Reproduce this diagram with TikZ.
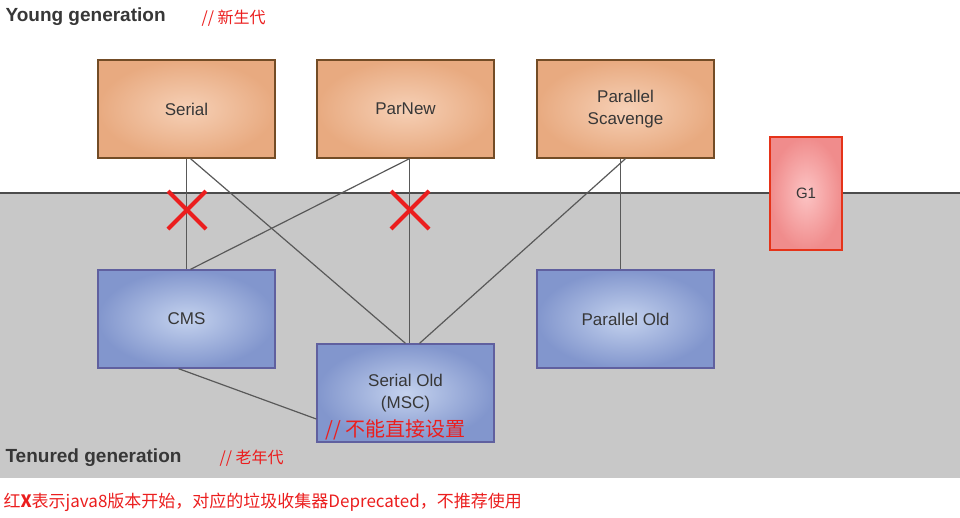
\documentclass[tikz,border=0pt]{standalone}
\usetikzlibrary{calc}
\usepackage{fontspec}
\setmainfont{Liberation Sans}
\newfontfamily\cjk{Noto Sans CJK SC}
\definecolor{orng}{RGB}{232,170,128}
\definecolor{orngin}{RGB}{246,208,182}
\definecolor{blu}{RGB}{130,150,205}
\definecolor{bluin}{RGB}{196,210,238}
\definecolor{pnk}{RGB}{240,140,140}
\definecolor{pnkin}{RGB}{252,196,196}
\definecolor{bg}{RGB}{200,200,200}
\definecolor{txt}{RGB}{55,55,55}
\definecolor{rd}{RGB}{235,30,30}
\tikzset{
 ybox/.style={draw=brown!60!black,line width=1.3pt,inner color=orngin,outer color=orng,minimum width=177pt,minimum height=98pt,text=txt,font=\fontsize{17}{22}\selectfont,align=center},
 obox/.style={draw=blue!25!gray,line width=1.3pt,inner color=bluin,outer color=blu,minimum width=177pt,minimum height=98pt,text=txt,font=\fontsize{17}{22}\selectfont,align=center},
 link/.style={draw=gray!70!black,line width=1.2pt},
 redx/.style={draw=rd,line width=4pt},
 gen/.style={anchor=west,text=txt,font=\fontsize{19}{22}\selectfont\bfseries},
 note/.style={anchor=west,text=rd,font=\cjk\fontsize{16}{19}\selectfont},
}
\begin{document}
\begin{tikzpicture}[x=1pt,y=-1pt]
\useasboundingbox (0,0) rectangle (960,517);
\fill[bg] (0,193) rectangle (960,478);
\draw[gray!60!black,line width=1.8pt] (0,193) -- (960,193);
\node[ybox] (serial) at (186.5,109) {Serial};
\node[ybox] (parnew) at (405.5,109) {ParNew};
\node[ybox] (ps) at (625.5,109) {Parallel\\Scavenge};
\node[draw=red!60!brown,line width=1.3pt,inner color=pnkin,outer color=pnk,minimum width=72pt,minimum height=113pt,text=txt,font=\fontsize{15}{18}\selectfont] (g1) at (806,193.5) {G1};
\node[obox] (cms) at (186.5,319) {CMS};
\node[obox] (so) at (405.5,393) {Serial Old\\(MSC)};
\node[obox] (po) at (625.5,319) {Parallel Old};
\draw[link] (serial.south) -- (cms.north);
\draw[link] ([xshift=4pt]serial.south) -- (so.north);
\draw[link] ([xshift=4pt]parnew.south) -- ([xshift=4pt]cms.north);
\draw[link] ([xshift=4pt]parnew.south) -- ([xshift=4pt]so.north);
\draw[link] (ps.south) -- ([xshift=14pt]so.north);
\draw[link] ([xshift=-5pt]ps.south) -- ([xshift=-5pt]po.north);
\draw[link] ([xshift=-8pt]cms.south) -- ([yshift=-26pt]so.west);
\coordinate (x1) at (187,210);
\coordinate (x2) at (410,210);
\draw[redx] ($(x1)+(-19,-19)$) -- ($(x1)+(19,19)$) ($(x1)+(19,-19)$) -- ($(x1)+(-19,19)$);
\draw[redx] ($(x2)+(-19,-19)$) -- ($(x2)+(19,19)$) ($(x2)+(19,-19)$) -- ($(x2)+(-19,19)$);
\node[gen] (yg) at (2,17) {Young generation};
\node[note] (ygn) at (198,18) {// 新生代};
\node[gen] (tg) at (2,458) {Tenured generation};
\node[note] (tgn) at (216,458) {// 老年代};
\node[note,font=\cjk\fontsize{20}{24}\selectfont] (nn) at (322,430) {// 不能直接设置};
\node[note,font=\cjk\fontsize{17}{20}\selectfont] (cap) at (0,502) {红\textbf{X}表示java8版本开始，对应的垃圾收集器Deprecated，不推荐使用};
\end{tikzpicture}
\end{document}
